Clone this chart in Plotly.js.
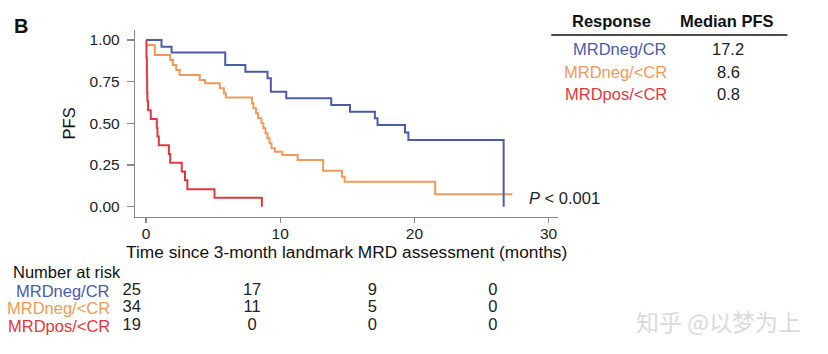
<!DOCTYPE html>
<html>
<head>
<meta charset="utf-8">
<script src="https://cdn.plot.ly/plotly-3.0.1.min.js"></script>
<style>html,body{margin:0;padding:0;background:#fff;}#chart{width:828px;height:354px;}</style>
</head>
<body>
<div id="chart"></div>
<script>
// ---- data ----
const groups = ['MRDneg/CR', 'MRDneg/<CR', 'MRDpos/<CR'];
const medianPFS = ['17.2', '8.6', '0.8'];

const blueT = [0, 1.15, 1.9, 5.9, 7.4, 9.05, 9.3, 10.45, 13.8, 15.2, 17.05, 17.25, 19.3, 19.55, 26.65];
const blueS = [1.0, 0.96, 0.925, 0.85, 0.81, 0.77, 0.69, 0.65, 0.61, 0.57, 0.53, 0.49, 0.445, 0.40, 0.0];

const orangeT = [0, 0.65, 1.8, 2.0, 2.25, 2.5, 4.0, 4.4, 5.5, 5.8, 5.95, 7.9, 8.0, 8.2, 8.35, 8.6, 8.75, 8.9, 9.05, 9.2, 9.35, 9.6, 10.15, 11.3, 13.2, 14.6, 14.8, 21.55, 27.3];
const orangeS = [0.97, 0.91, 0.88, 0.85, 0.82, 0.79, 0.76, 0.74, 0.71, 0.68, 0.655, 0.62, 0.59, 0.56, 0.53, 0.50, 0.47, 0.44, 0.41, 0.38, 0.35, 0.33, 0.31, 0.28, 0.215, 0.18, 0.15, 0.075, 0.075];

const redT = [0, 0.03, 0.06, 0.08, 0.1, 0.15, 0.35, 0.8, 0.85, 0.95, 1.7, 1.8, 2.66, 2.9, 3.08, 5.1, 8.63];
const redS = [1.0, 0.895, 0.789, 0.684, 0.632, 0.579, 0.526, 0.474, 0.421, 0.368, 0.316, 0.263, 0.211, 0.158, 0.105, 0.053, 0.0];

const riskTimes = [0, 10, 20, 30];
const riskNegCR = [25, 17, 9, 0];
const riskNegLtCR = [34, 11, 5, 0];
const riskPosLtCR = [19, 0, 0, 0];

const xTicks = [0, 10, 20, 30];
const yTicks = [0, 0.25, 0.5, 0.75, 1.0];
const yTickText = ['0.00', '0.25', '0.50', '0.75', '1.00'];

// ---- style ----
const colors = ['#4B5BA8', '#F0995A', '#E1383F'];
const FONT = 'Liberation Sans, Arial, Helvetica, sans-serif';
const W = 828, H = 354;
const M = {l: 90, r: 270.3, t: 10, b: 10};
const PW = W - M.l - M.r, PH = H - M.t - M.b;
const px = x => (x - M.l) / PW;
const py = y => (H - M.b - y) / PH;

const traces = [
  {x: orangeT, y: orangeS, name: groups[1], mode: 'lines', line: {shape: 'hv', color: colors[1], width: 2}, xaxis: 'x', yaxis: 'y', hoverinfo: 'skip'},
  {x: blueT, y: blueS, name: groups[0], mode: 'lines', line: {shape: 'hv', color: colors[0], width: 2}, xaxis: 'x', yaxis: 'y', hoverinfo: 'skip'},
  {x: redT, y: redS, name: groups[2], mode: 'lines', line: {shape: 'hv', color: colors[2], width: 2}, xaxis: 'x', yaxis: 'y', hoverinfo: 'skip'}
];

// number-at-risk table through its own scale
const riskRows = [riskNegCR, riskNegLtCR, riskPosLtCR];
riskRows.forEach((row, i) => {
  traces.push({
    x: riskTimes, y: riskTimes.map(() => i + 1), text: row.map(String),
    mode: 'text', textposition: 'middle center',
    textfont: {family: FONT, size: 16.5, color: '#222'},
    xaxis: 'x2', yaxis: 'y2', cliponaxis: false, hoverinfo: 'skip', showlegend: false
  });
});

const annotations = [];
annotations.push({xref: 'paper', yref: 'paper', x: px(12), y: py(26), xanchor: 'left', yanchor: 'middle',
  text: '<b>B</b>', showarrow: false, font: {family: FONT, size: 20, color: '#111'}});
annotations.push({xref: 'x', yref: 'y', x: 28.4, y: 0.05, xanchor: 'left', yanchor: 'middle',
  text: '<i>P</i> < 0.001', showarrow: false, font: {family: FONT, size: 16.5, color: '#222'}});
annotations.push({xref: 'paper', yref: 'paper', x: px(611), y: py(21), xanchor: 'center', yanchor: 'middle',
  text: '<b>Response</b>', showarrow: false, font: {family: FONT, size: 16.5, color: '#111'}});
annotations.push({xref: 'paper', yref: 'paper', x: px(727), y: py(21), xanchor: 'center', yanchor: 'middle',
  text: '<b>Median PFS</b>', showarrow: false, font: {family: FONT, size: 16.5, color: '#111'}});
const tableRowsY = [48.5, 72, 94.5];
groups.forEach((g, i) => {
  annotations.push({xref: 'paper', yref: 'paper', x: px(669), y: py(tableRowsY[i]), xanchor: 'right', yanchor: 'middle',
    text: g.replace('<', '&lt;'), showarrow: false, font: {family: FONT, size: 16.5, color: colors[i]}});
  annotations.push({xref: 'paper', yref: 'paper', x: px(728), y: py(tableRowsY[i]), xanchor: 'center', yanchor: 'middle',
    text: medianPFS[i], showarrow: false, font: {family: FONT, size: 16.5, color: '#222'}});
});
annotations.push({xref: 'paper', yref: 'paper', x: px(11), y: py(271.5), xanchor: 'left', yanchor: 'middle',
  text: 'Number at risk', showarrow: false, font: {family: FONT, size: 16.5, color: '#111'}});
groups.forEach((g, i) => {
  annotations.push({xref: 'paper', yref: 'y2', x: px(112), y: i + 1, xanchor: 'right', yanchor: 'middle',
    text: g.replace('<', '&lt;'), showarrow: false, font: {family: FONT, size: 16.5, color: colors[i]}});
});
annotations.push({xref: 'paper', yref: 'paper', x: px(718), y: py(321), xanchor: 'center', yanchor: 'middle',
  text: '知乎 @以梦为上', showarrow: false, font: {family: 'Noto Sans CJK SC, sans-serif', size: 23, color: '#dadada'}});

const layout = {
  width: W, height: H,
  margin: M,
  paper_bgcolor: '#fff', plot_bgcolor: 'rgba(0,0,0,0)',
  showlegend: false,
  font: {family: FONT, color: '#222'},
  xaxis: {
    domain: [px(135.3), 1], range: [-0.8, 30.7],
    tickvals: xTicks, ticks: 'outside', ticklen: 5, tickwidth: 1.2, tickcolor: '#888',
    showline: true, linecolor: '#888', linewidth: 1.5, showgrid: false, zeroline: false,
    tickfont: {family: FONT, size: 15.5, color: '#222'}, ticklabelstandoff: -3,
    title: {text: 'Time since 3-month landmark MRD assessment (months)', font: {family: FONT, size: 17.3, color: '#111'}, standoff: 3},
    automargin: false, anchor: 'y'
  },
  yaxis: {
    domain: [py(216.7), py(30)], range: [-0.06, 1.06],
    tickvals: yTicks, ticktext: yTickText, ticks: 'outside', ticklen: 7, tickwidth: 1.2, tickcolor: '#888',
    showline: true, linecolor: '#888', linewidth: 1.5, showgrid: false, zeroline: false,
    tickfont: {family: FONT, size: 15.5, color: '#222'}, ticklabelstandoff: 4,
    title: {text: 'PFS', font: {family: FONT, size: 16.5, color: '#111'}, standoff: 10},
    automargin: false, anchor: 'x'
  },
  xaxis2: {
    domain: [px(131.7 - 12.027), px(492.5 + 12.027)], range: [-1, 31],
    visible: false, anchor: 'y2', showgrid: false, zeroline: false, fixedrange: true
  },
  yaxis2: {
    domain: [py(325.5 + 8.625), py(291 - 8.625)], range: [3.5, 0.5],
    visible: false, anchor: 'x2', showgrid: false, zeroline: false, fixedrange: true
  },
  shapes: [
    {type: 'line', xref: 'paper', yref: 'paper', x0: px(551), x1: px(787), y0: py(35), y1: py(35), line: {color: '#111', width: 1.5}}
  ],
  annotations: annotations
};

Plotly.newPlot('chart', traces, layout, {displayModeBar: false, staticPlot: true});
</script>
</body>
</html>
